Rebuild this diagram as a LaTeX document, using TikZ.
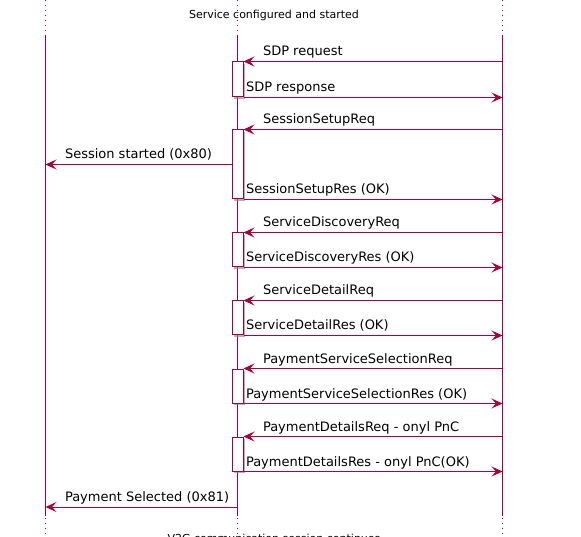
\documentclass[tikz,border=0pt]{standalone}
\usepackage{fontspec}
\setmainfont{DejaVu Sans}
\usetikzlibrary{arrows.meta,shadows}
\definecolor{uml}{HTML}{A80036}

\tikzset{
  life/.style={draw=uml, line width=1pt},
  lifedot/.style={life, dash pattern=on 1pt off 4pt},
  act/.style={draw=uml, fill=white, line width=1pt, minimum width=11pt, inner sep=0pt,
    drop shadow={shadow xshift=2pt, shadow yshift=-2pt, fill=black!50, opacity=0.6}},
  msg/.style={draw=uml, line width=1pt, -{Stealth[length=11pt,width=10pt,inset=4.5pt]}},
  lbl/.style={anchor=base west, inner sep=0pt, yshift=5.5pt, font=\fontsize{13}{15}\selectfont},
  reqlabel/.style={lbl, pos=1, xshift=19pt},
  reslabel/.style={lbl, pos=0, xshift=2pt},
  delay/.style={inner sep=0pt, anchor=base, font=\fontsize{11}{13}\selectfont}
}

\begin{document}
\begin{tikzpicture}[x=1pt, y=-1pt]
   \useasboundingbox (0,0) rectangle (581,537);
   \coordinate (hmi) at (45.5,0);
   \coordinate (secc) at (237,0);
   \coordinate (ev) at (502.5,0);
   % lifelines
   \foreach \p in {hmi,secc,ev}{
     \draw[lifedot] (\p) -- ([yshift=-36pt]\p);
     \draw[life] ([yshift=-36pt]\p) -- ([yshift=-516pt]\p);
     \draw[lifedot] ([yshift=-518pt]\p) -- ([yshift=-537pt]\p);
   }
   \node[delay] (top) at (274,18.5) {Service configured and started};
   \node[delay] (bottom) at (274,542) {V2G communication session continues};
   % activations
   \foreach \n/\t/\b in {1/62/97, 2/130/199, 3/233/267, 4/301/335, 5/369/403, 6/437/471}
     \node[act, minimum height={(\b-\t)*1pt}] (b\n) at (237.5,{(\t+\b)/2}) {};
   % messages
   \draw[msg] (b1.north east -| ev) -- node[reqlabel] {SDP request} (b1.north east);
   \draw[msg] (b1.south east) -- node[reslabel] {SDP response} (b1.south east -| ev);
   \draw[msg] (b2.north east -| ev) -- node[reqlabel] {SessionSetupReq} (b2.north east);
   \draw[msg] (b2.west) -- node[reqlabel] {Session started (0x80)} (b2.west -| hmi);
   \draw[msg] (b2.south east) -- node[reslabel] {SessionSetupRes (OK)} (b2.south east -| ev);
   \draw[msg] (b3.north east -| ev) -- node[reqlabel] {ServiceDiscoveryReq} (b3.north east);
   \draw[msg] (b3.south east) -- node[reslabel] {ServiceDiscoveryRes (OK)} (b3.south east -| ev);
   \draw[msg] (b4.north east -| ev) -- node[reqlabel] {ServiceDetailReq} (b4.north east);
   \draw[msg] (b4.south east) -- node[reslabel] {ServiceDetailRes (OK)} (b4.south east -| ev);
   \draw[msg] (b5.north east -| ev) -- node[reqlabel] {PaymentServiceSelectionReq} (b5.north east);
   \draw[msg] (b5.south east) -- node[reslabel] {PaymentServiceSelectionRes (OK)} (b5.south east -| ev);
   \draw[msg] (b6.north east -| ev) -- node[reqlabel] {PaymentDetailsReq - onyl PnC} (b6.north east);
   \draw[msg] (b6.south east) -- node[reslabel] {PaymentDetailsRes - onyl PnC(OK)} (b6.south east -| ev);
   \coordinate (sel) at ([yshift=-507pt]secc);
   \draw[msg] (sel) -- node[reqlabel] {Payment Selected (0x81)} (sel -| hmi);
\end{tikzpicture}
\end{document}
